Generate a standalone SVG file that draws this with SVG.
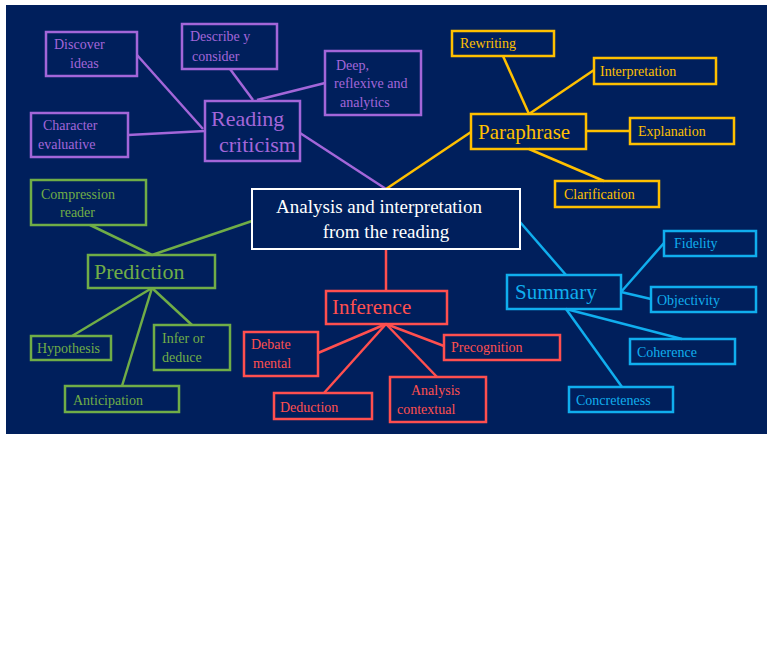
<svg xmlns="http://www.w3.org/2000/svg" width="768" height="669" viewBox="0 0 768 669">
<style>
text{font-family:"Liberation Serif","Times New Roman",serif;font-size:14px}
.b{fill:none;stroke-width:2.5}
.p{stroke:#a366d9}.pt{fill:#a366d9}
.y{stroke:#ffc000}.yt{fill:#ffc000}
.g{stroke:#70ad47}.gt{fill:#70ad47}
.r{stroke:#ff4f4f}.rt{fill:#ff4f4f}
.c{stroke:#10aeee}.ct{fill:#10aeee}
.big{font-size:22px}
#conn line{stroke-width:2.5}
</style>
<rect width="768" height="669" fill="#fff"/>
<rect x="6" y="5" width="761" height="429" fill="#001f5c"/>
<g id="conn">
<g class="p"><line x1="386" y1="189" x2="300" y2="133"/><line x1="137" y1="55" x2="203" y2="129"/><line x1="230" y1="69" x2="253" y2="100"/><line x1="325" y1="83" x2="257" y2="100"/><line x1="128" y1="135" x2="205" y2="131"/></g>
<g class="y"><line x1="386" y1="189" x2="471" y2="132"/><line x1="503" y1="56" x2="529" y2="114"/><line x1="594" y1="70" x2="529" y2="114"/><line x1="586" y1="131" x2="630" y2="131"/><line x1="529" y1="149" x2="604" y2="181"/></g>
<g class="g"><line x1="252" y1="221" x2="152" y2="255"/><line x1="90" y1="225" x2="152" y2="255"/><line x1="152" y1="288" x2="72" y2="336"/><line x1="152" y1="288" x2="192" y2="325"/><line x1="152" y1="288" x2="122" y2="386"/></g>
<g class="r"><line x1="386" y1="249" x2="386" y2="291"/><line x1="386" y1="324" x2="318" y2="353"/><line x1="386" y1="324" x2="324" y2="393"/><line x1="386" y1="324" x2="437" y2="377"/><line x1="386" y1="324" x2="444" y2="346"/></g>
<g class="c"><line x1="520" y1="222" x2="566" y2="275"/><line x1="621" y1="292" x2="664" y2="243"/><line x1="621" y1="292" x2="651" y2="299"/><line x1="566" y1="309" x2="682" y2="339"/><line x1="566" y1="309" x2="622" y2="387"/></g>
</g>
<g id="center"><rect x="252" y="189" width="268" height="60" fill="#001f5c" stroke="#fff" stroke-width="2"/><text x="379" y="213" text-anchor="middle" fill="#fff" font-size="19" style="font-size:19px">Analysis and interpretation</text><text x="386" y="238" text-anchor="middle" fill="#fff" style="font-size:19px">from the reading</text></g>
<g id="reading"><rect class="b p" x="205" y="101" width="95" height="60"/><text class="pt big" x="211" y="126">Reading</text><text class="pt big" x="219" y="152">criticism</text></g>
<g id="discover"><rect class="b p" x="46" y="32" width="91" height="44"/><text class="pt" x="54" y="49">Discover</text><text class="pt" x="70" y="68">ideas</text></g>
<g id="describe"><rect class="b p" x="182" y="24" width="95" height="45"/><text class="pt" x="190" y="41">Describe y</text><text class="pt" x="192" y="61">consider</text></g>
<g id="deep"><rect class="b p" x="325" y="51" width="96" height="64"/><text class="pt" x="336" y="70">Deep,</text><text class="pt" x="334" y="88">reflexive and</text><text class="pt" x="340" y="107">analytics</text></g>
<g id="character"><rect class="b p" x="31" y="113" width="97" height="44"/><text class="pt" x="43" y="130">Character</text><text class="pt" x="38" y="149">evaluative</text></g>
<g id="paraphrase"><rect class="b y" x="471" y="114" width="115" height="35"/><text class="yt big" x="478" y="139" style="font-size:21px">Paraphrase</text></g>
<g id="rewriting"><rect class="b y" x="452" y="31" width="102" height="25"/><text class="yt" x="460" y="48">Rewriting</text></g>
<g id="interpretation"><rect class="b y" x="594" y="58" width="122" height="26"/><text class="yt" x="600" y="76">Interpretation</text></g>
<g id="explanation"><rect class="b y" x="630" y="118" width="104" height="26"/><text class="yt" x="638" y="136">Explanation</text></g>
<g id="clarification"><rect class="b y" x="555" y="181" width="104" height="26"/><text class="yt" x="564" y="199">Clarification</text></g>
<g id="prediction"><rect class="b g" x="88" y="255" width="127" height="33"/><text class="gt big" x="94" y="279">Prediction</text></g>
<g id="compression"><rect class="b g" x="31" y="180" width="115" height="45"/><text class="gt" x="41" y="199">Compression</text><text class="gt" x="60" y="217">reader</text></g>
<g id="hypothesis"><rect class="b g" x="31" y="336" width="80" height="24"/><text class="gt" x="37" y="353">Hypothesis</text></g>
<g id="infer"><rect class="b g" x="154" y="325" width="76" height="45"/><text class="gt" x="162" y="343">Infer or</text><text class="gt" x="162" y="362">deduce</text></g>
<g id="anticipation"><rect class="b g" x="65" y="386" width="114" height="26"/><text class="gt" x="73" y="405">Anticipation</text></g>
<g id="inference"><rect class="b r" x="326" y="291" width="121" height="33"/><text class="rt big" x="332" y="314" style="font-size:21px">Inference</text></g>
<g id="debate"><rect class="b r" x="244" y="332" width="74" height="44"/><text class="rt" x="251" y="349">Debate</text><text class="rt" x="253" y="368">mental</text></g>
<g id="deduction"><rect class="b r" x="274" y="393" width="98" height="26"/><text class="rt" x="280" y="412">Deduction</text></g>
<g id="analysis"><rect class="b r" x="390" y="377" width="96" height="45"/><text class="rt" x="411" y="395">Analysis</text><text class="rt" x="397" y="414">contextual</text></g>
<g id="precognition"><rect class="b r" x="444" y="335" width="116" height="25"/><text class="rt" x="451" y="352">Precognition</text></g>
<g id="summary"><rect class="b c" x="507" y="275" width="114" height="34"/><text class="ct big" x="515" y="299" style="font-size:21px">Summary</text></g>
<g id="fidelity"><rect class="b c" x="664" y="231" width="92" height="25"/><text class="ct" x="674" y="248">Fidelity</text></g>
<g id="objectivity"><rect class="b c" x="651" y="287" width="105" height="25"/><text class="ct" x="657" y="305">Objectivity</text></g>
<g id="coherence"><rect class="b c" x="630" y="339" width="105" height="25"/><text class="ct" x="637" y="357">Coherence</text></g>
<g id="concreteness"><rect class="b c" x="569" y="387" width="104" height="25"/><text class="ct" x="576" y="405">Concreteness</text></g>
</svg>
